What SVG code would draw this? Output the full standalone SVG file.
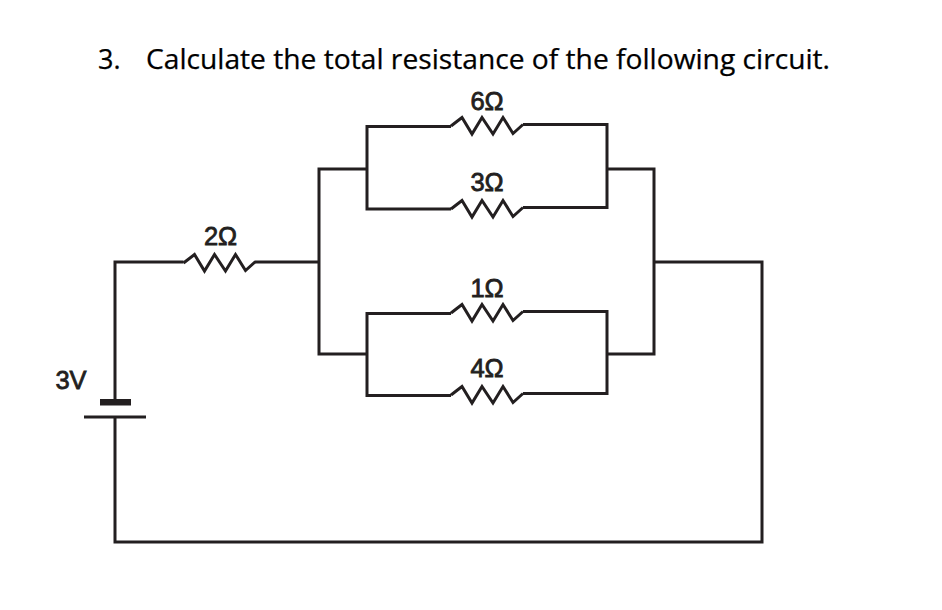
<svg xmlns="http://www.w3.org/2000/svg" width="942" height="610" viewBox="0 0 942 610">
<style>
.w{fill:none;stroke:#231f20;stroke-width:3;stroke-linejoin:miter;stroke-linecap:butt}
.l{font-family:"Liberation Sans",Arial,sans-serif;font-size:25.500px;font-weight:400;fill:#231f20;stroke:#231f20;stroke-width:.8;text-anchor:middle}
.t{font-family:"Open Sans","Noto Sans",sans-serif;font-size:27px;fill:#000;stroke:#000;stroke-width:.25}
</style>
<defs>
<path id="r" class="w" d="M0 0L11-8.500 21 8 31-8.500 42 8 52-8.500 62 7.500 72-1.500"/>
</defs>
<rect width="942" height="610" fill="#fff"/>
<text class="t" x="98" y="69">3.</text>
<text class="t" x="146" y="69" textLength="684" lengthAdjust="spacingAndGlyphs">Calculate the total resistance of the following circuit.</text>
<g id="connectors">
<path class="w" d="M451 126.500H367V209H451"/>
<path class="w" d="M523 124.500H607V207.500H523"/>
<path class="w" d="M451 313.500H367V395.500H451"/>
<path class="w" d="M523 311.500H607V393.500H523"/>
<path class="w" d="M367 169H319V354H367"/>
<path class="w" d="M607 169H654V354H607"/>
<path class="w" d="M255 262H319"/>
<path class="w" d="M183.500 262H115V400"/>
<path class="w" d="M115 417V542H762V262H654"/>
</g>
<g id="r6"><use href="#r" x="451" y="126"/><text class="l" x="487" y="109.500">6Ω</text></g>
<g id="r3"><use href="#r" x="451" y="209"/><text class="l" x="487" y="190.500">3Ω</text></g>
<g id="r2"><use href="#r" x="183.500" y="263"/><text class="l" x="220.500" y="245">2Ω</text></g>
<g id="r1"><use href="#r" x="451" y="313"/><text class="l" x="487" y="297">1Ω</text></g>
<g id="r4"><use href="#r" x="451" y="395"/><text class="l" x="487" y="377">4Ω</text></g>
<g id="battery">
<rect x="100" y="399" width="31" height="6.500" fill="#231f20"/>
<rect x="84" y="415.500" width="62" height="3" fill="#231f20"/>
<text class="l" x="71" y="389">3V</text>
</g>
</svg>
